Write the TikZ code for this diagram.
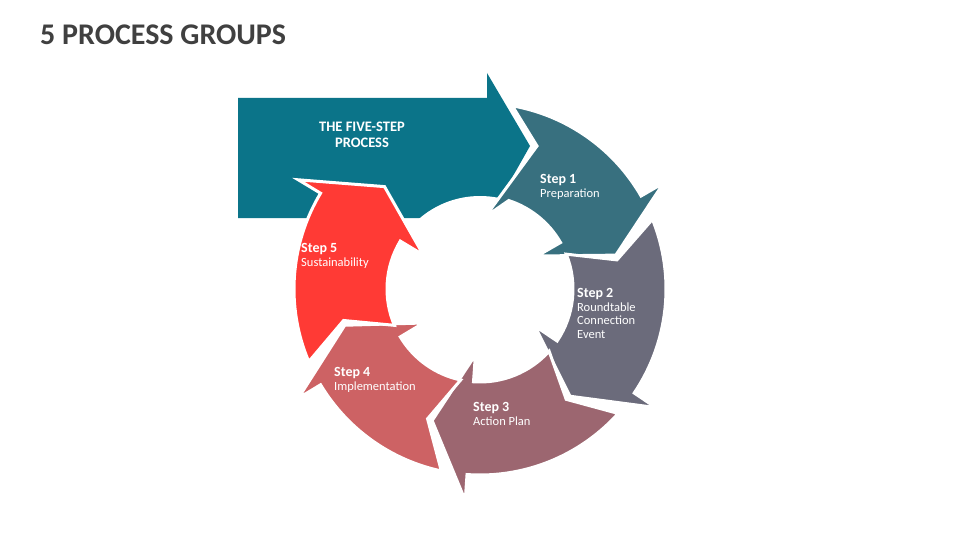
\documentclass[tikz,border=0pt]{standalone}
\usepackage{fontspec}
\setmainfont{Carlito}
\definecolor{bigc}{HTML}{0B7489}
\definecolor{c1}{HTML}{38707F}
\definecolor{c2}{HTML}{6B6B7B}
\definecolor{c3}{HTML}{9C6670}
\definecolor{c4}{HTML}{CD6264}
\definecolor{c5}{HTML}{FF3A35}
\tikzset{seg/.style={draw=white,line width=3pt,line join=miter},
 lab/.style={anchor=north west,text=white,align=left,inner sep=0pt,font=\fontsize{12.5}{13.8}\selectfont},
 ttl/.style={anchor=west,text=black!75,font=\fontsize{30}{34}\selectfont\bfseries,inner sep=0pt}}
\newcommand{\Rr}{186}\newcommand{\rr}{93}\newcommand{\mm}{140}
\newcommand{\stp}[1]{\textbf{\fontsize{14}{15}\selectfont #1}}
\newcommand{\segm}[3]{% T, t, color
 \pgfmathsetmacro{\bb}{#2+16}\pgfmathsetmacro{\dd}{#1-10}
 \path[seg,fill=#3] (#1:\Rr) arc[start angle=#1,end angle=\bb,radius=\Rr] -- (\bb:212) -- (#2:\mm) -- (\bb:66) -- (\bb:\rr) arc[start angle=\bb,end angle=#1,radius=\rr] -- (\dd:\mm) -- cycle;}
\begin{document}
\begin{tikzpicture}[x=1pt,y=-1pt]
\useasboundingbox[fill=white] (0,0) rectangle (960,540);
\node[ttl] (title) at (40,35) {5 PROCESS GROUPS};
\fill[bigc] (238,98) -- (487,98) -- (487,73) -- (530,146) -- (487,222) -- (487,218) -- (238,218) -- cycle;
\node[text=white,align=center,font=\fontsize{14.5}{16}\selectfont\bfseries] (big) at (362,135) {THE FIVE-STEP\\PROCESS};
\begin{scope}[shift={(480,289)},yscale=-1]
\fill[white] (0,0) circle[radius=\rr];
\path[seg,fill=c1] (80:\Rr) arc[start angle=80,end angle=30,radius=\Rr] -- (30:212) -- (14:\mm) -- (30:66) -- (30:\rr) arc[start angle=30,end angle=72,radius=\rr] -- (5,72) -- (57,143) -- cycle;
\segm{22}{-50}{c2}
\segm{-42}{-110}{c3}
\segm{-102}{-165}{c4}
\segm{-157}{-227}{c5}
\end{scope}
\node[lab] (l1) at (540,174) {\stp{Step 1}\\Preparation};
\node[lab] (l2) at (577,288) {\stp{Step 2}\\Roundtable\\Connection\\Event};
\node[lab] (l3) at (473,402) {\stp{Step 3}\\Action Plan};
\node[lab] (l4) at (334,367) {\stp{Step 4}\\Implementation};
\node[lab] (l5) at (301,243) {\stp{Step 5}\\Sustainability};
\end{tikzpicture}
\end{document}
